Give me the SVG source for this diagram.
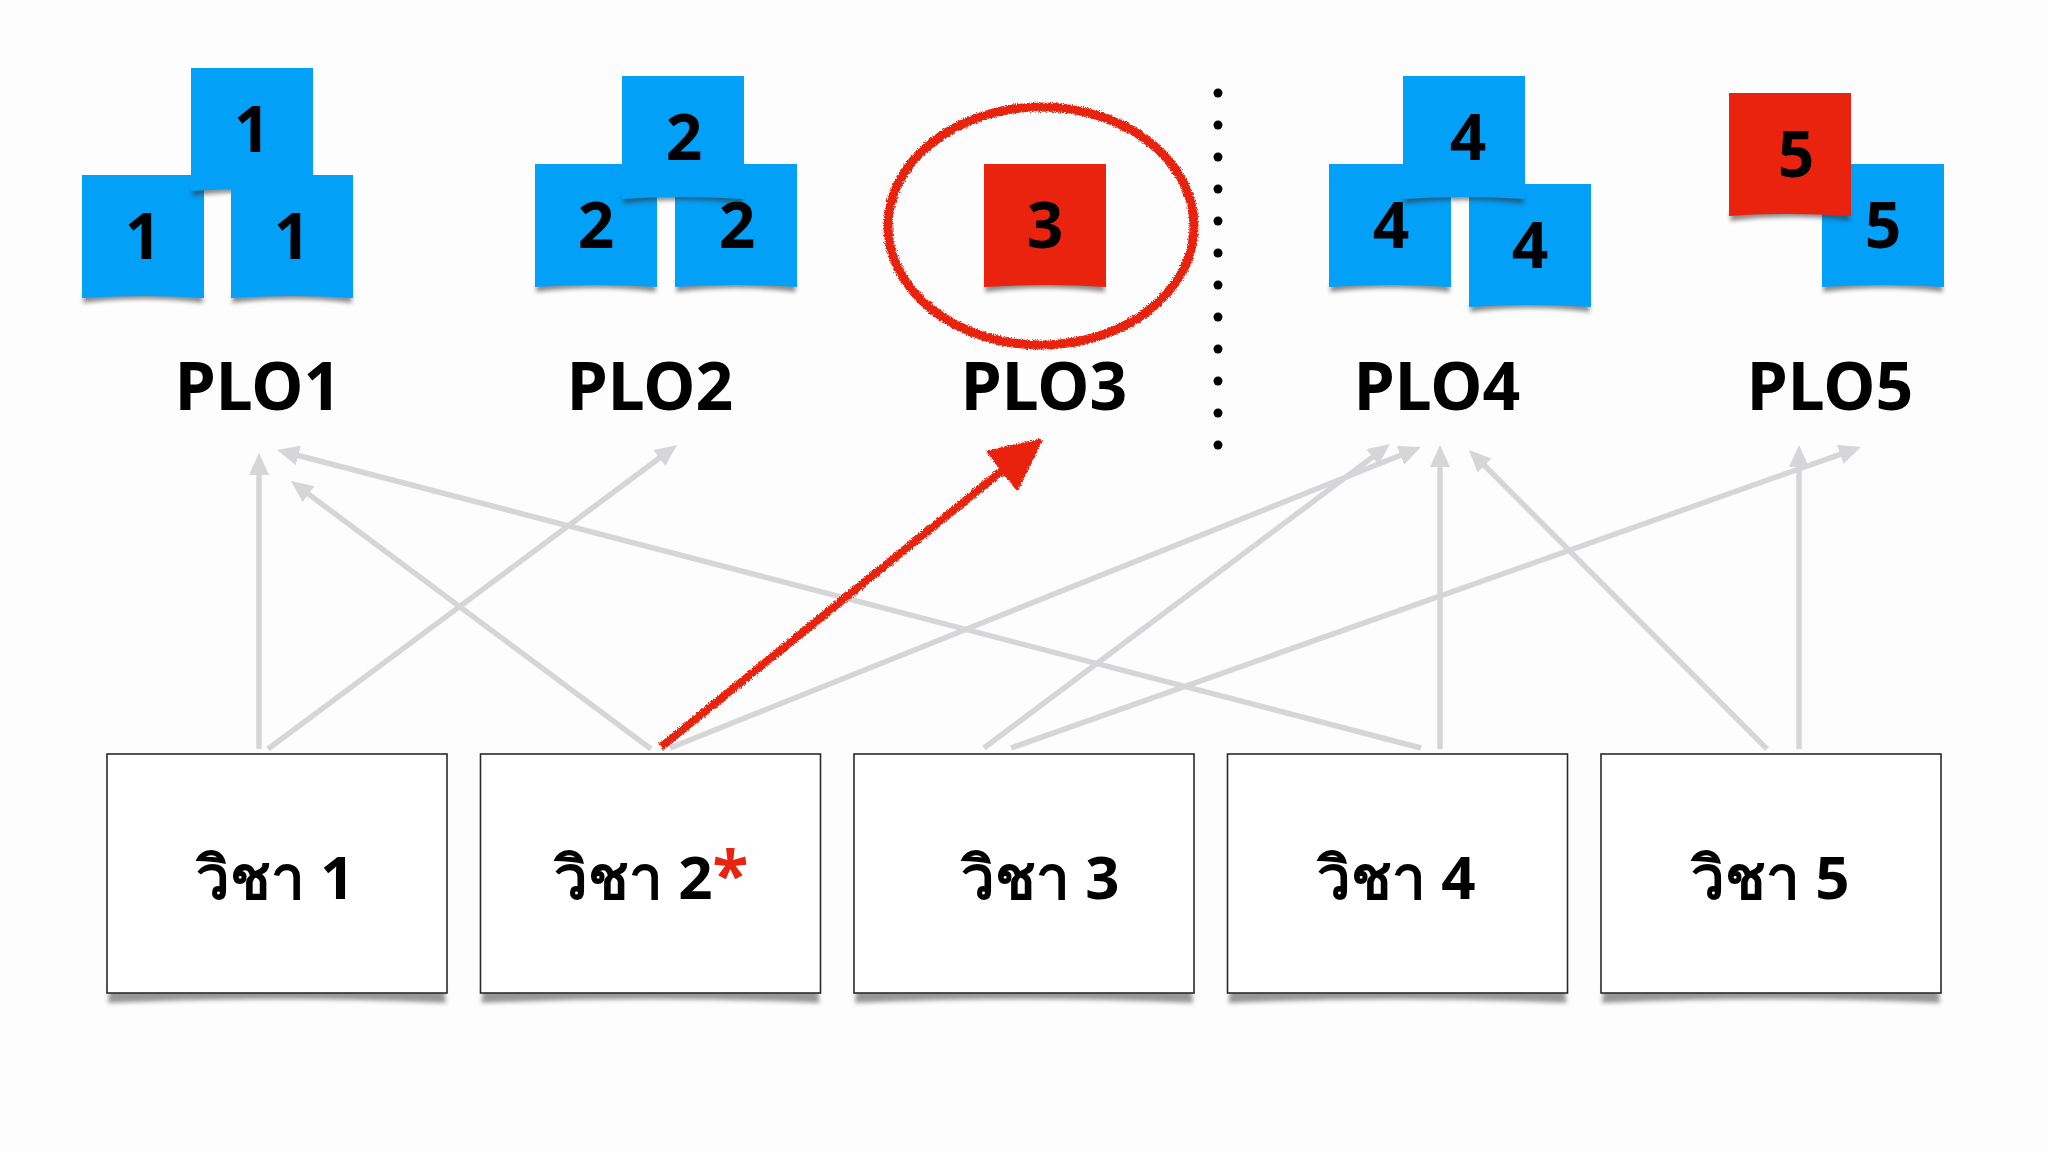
<svg xmlns="http://www.w3.org/2000/svg" xmlns:xlink="http://www.w3.org/1999/xlink" width="2048" height="1152" viewBox="0 0 2048 1152">
  <defs>
    <style>
      .digit { font-family: "Noto Sans", "DejaVu Sans", sans-serif; font-weight: 700; font-size: 64px; fill: #000; text-anchor: middle; }
      .plo { font-family: "Noto Sans", "DejaVu Sans", sans-serif; font-weight: 700; font-size: 66px; fill: #000; text-anchor: middle; }
      .course { font-family: "Noto Sans", "DejaVu Sans", sans-serif; font-weight: 700; font-size: 60px; fill: #000; text-anchor: middle; }
      .star { fill: #E8230F; font-size: 66px; }
      .box { fill: #fff; stroke: #2a2a2a; stroke-width: 1.6; }
      .conn { stroke: #D6D6D8; stroke-width: 5.5; fill: none; marker-end: url(#ah); }
      .red { stroke: #E8230F; fill: none; filter: url(#rough); }
      .redfill { stroke: #E8230F; fill: #E8230F; filter: url(#rough); }
      .dot { fill: #000; }
    </style>
    <filter id="blur" x="-20%" y="-50%" width="140%" height="200%">
      <feGaussianBlur stdDeviation="2.2"/>
    </filter>
    <filter id="rough" x="-10%" y="-10%" width="120%" height="120%">
      <feTurbulence type="fractalNoise" baseFrequency="1.2" numOctaves="2" seed="3" result="n"/>
      <feDisplacementMap in="SourceGraphic" in2="n" scale="5" xChannelSelector="R" yChannelSelector="G"/>
    </filter>
    <marker id="ah" viewBox="0 0 22 20" refX="6" refY="10" markerWidth="22" markerHeight="20" markerUnits="userSpaceOnUse" orient="auto">
      <path d="M0,0 L22,10 L0,20 Z" fill="#D6D6D8"/>
    </marker>
    <g id="cardShadow">
      <path d="M3,114 L119,114 L121,128 Q61,120 1,128 Z" fill="#333" opacity="0.55" filter="url(#blur)"/>
    </g>
    <g id="cardBlue">
      <use xlink:href="#cardShadow"/>
      <path d="M0,0 H122 V123 Q61,119 0,123 Z" fill="#03A0F7"/>
    </g>
    <g id="cardRed">
      <use xlink:href="#cardShadow"/>
      <path d="M0,0 H122 V123 Q61,119 0,123 Z" fill="#EA230F"/>
    </g>
    <g id="boxShadow">
      <path d="M3,232 L337,232 L339,249 Q170,241 1,249 Z" fill="#333" opacity="0.5" filter="url(#blur)"/>
    </g>
  </defs>

  <rect x="0" y="0" width="2048" height="1152" fill="#FDFDFE"/>

  <!-- PLO nodes -->
  <g id="plo1">
    <use xlink:href="#cardBlue" x="82" y="175"/>
    <text class="digit" x="143" y="259">1</text>
    <use xlink:href="#cardBlue" x="191" y="68"/>
    <text class="digit" x="252" y="152">1</text>
    <use xlink:href="#cardBlue" x="231" y="175"/>
    <text class="digit" x="292" y="259">1</text>
    <text class="plo" x="258" y="410">PLO1</text>
  </g>

  <g id="plo2">
    <use xlink:href="#cardBlue" x="535" y="164"/>
    <text class="digit" x="596" y="248">2</text>
    <use xlink:href="#cardBlue" x="675" y="164"/>
    <text class="digit" x="737" y="248">2</text>
    <use xlink:href="#cardBlue" x="622" y="76"/>
    <text class="digit" x="684" y="160">2</text>
    <text class="plo" x="650" y="410">PLO2</text>
  </g>

  <g id="plo3">
    <use xlink:href="#cardRed" x="984" y="164"/>
    <text class="digit" x="1045" y="248">3</text>
    <ellipse class="red" cx="1041" cy="226" rx="153" ry="119" stroke-width="9"/>
    <text class="plo" x="1044" y="410">PLO3</text>
  </g>

  <g id="divider">
    <circle class="dot" cx="1218" cy="93" r="4.5"/>
    <circle class="dot" cx="1218" cy="125" r="4.5"/>
    <circle class="dot" cx="1218" cy="157" r="4.5"/>
    <circle class="dot" cx="1218" cy="189" r="4.5"/>
    <circle class="dot" cx="1218" cy="221" r="4.5"/>
    <circle class="dot" cx="1218" cy="253" r="4.5"/>
    <circle class="dot" cx="1218" cy="285" r="4.5"/>
    <circle class="dot" cx="1218" cy="317" r="4.5"/>
    <circle class="dot" cx="1218" cy="349" r="4.5"/>
    <circle class="dot" cx="1218" cy="381" r="4.5"/>
    <circle class="dot" cx="1218" cy="413" r="4.5"/>
    <circle class="dot" cx="1218" cy="445" r="4.5"/>
  </g>

  <g id="plo4">
    <use xlink:href="#cardBlue" x="1329" y="164"/>
    <text class="digit" x="1391" y="248">4</text>
    <use xlink:href="#cardBlue" x="1469" y="184"/>
    <text class="digit" x="1530" y="268">4</text>
    <use xlink:href="#cardBlue" x="1403" y="76"/>
    <text class="digit" x="1468" y="160">4</text>
    <text class="plo" x="1437" y="410">PLO4</text>
  </g>

  <g id="plo5">
    <use xlink:href="#cardBlue" x="1822" y="164"/>
    <text class="digit" x="1883" y="248">5</text>
    <use xlink:href="#cardRed" x="1729" y="93"/>
    <text class="digit" x="1796" y="177">5</text>
    <text class="plo" x="1830" y="410">PLO5</text>
  </g>

  <!-- Connectors -->
  <g id="connectors">
    <line class="conn" x1="259" y1="749" x2="259" y2="469"/>
    <line class="conn" x1="268" y1="749" x2="664.2" y2="454.5"/>
    <line class="conn" x1="651" y1="749" x2="303.8" y2="490.6"/>
    <line class="conn" x1="670" y1="748" x2="1406.1" y2="453"/>
    <line class="conn" x1="984" y1="748" x2="1377.2" y2="453.6"/>
    <line class="conn" x1="1011" y1="748" x2="1845.9" y2="452.3"/>
    <line class="conn" x1="1421" y1="748" x2="292.5" y2="454"/>
    <line class="conn" x1="1440" y1="749" x2="1440" y2="461"/>
    <line class="conn" x1="1767" y1="749" x2="1480.3" y2="461.3"/>
    <line class="conn" x1="1799" y1="749" x2="1799" y2="461"/>
    <g id="red-arrow">
      <line class="red" x1="661" y1="747" x2="1008" y2="466" stroke-width="8"/>
      <path class="redfill" d="M1040,441 L989,452 L1017,488 Z" stroke-width="4" stroke-linejoin="round"/>
    </g>
  </g>

  <!-- Course nodes -->
  <g id="course1">
    <use xlink:href="#boxShadow" x="107" y="754"/>
    <rect class="box" x="107" y="754" width="340" height="239"/>
    <text class="course" x="275" y="899">วิชา 1</text>
  </g>
  <g id="course2">
    <use xlink:href="#boxShadow" x="480.5" y="754"/>
    <rect class="box" x="480.5" y="754" width="340" height="239"/>
    <text class="course" x="651" y="899">วิชา 2<tspan class="star">*</tspan></text>
  </g>
  <g id="course3">
    <use xlink:href="#boxShadow" x="854" y="754"/>
    <rect class="box" x="854" y="754" width="340" height="239"/>
    <text class="course" x="1040" y="899">วิชา 3</text>
  </g>
  <g id="course4">
    <use xlink:href="#boxShadow" x="1227.5" y="754"/>
    <rect class="box" x="1227.5" y="754" width="340" height="239"/>
    <text class="course" x="1396" y="899">วิชา 4</text>
  </g>
  <g id="course5">
    <use xlink:href="#boxShadow" x="1601" y="754"/>
    <rect class="box" x="1601" y="754" width="340" height="239"/>
    <text class="course" x="1770" y="899">วิชา 5</text>
  </g>
</svg>
